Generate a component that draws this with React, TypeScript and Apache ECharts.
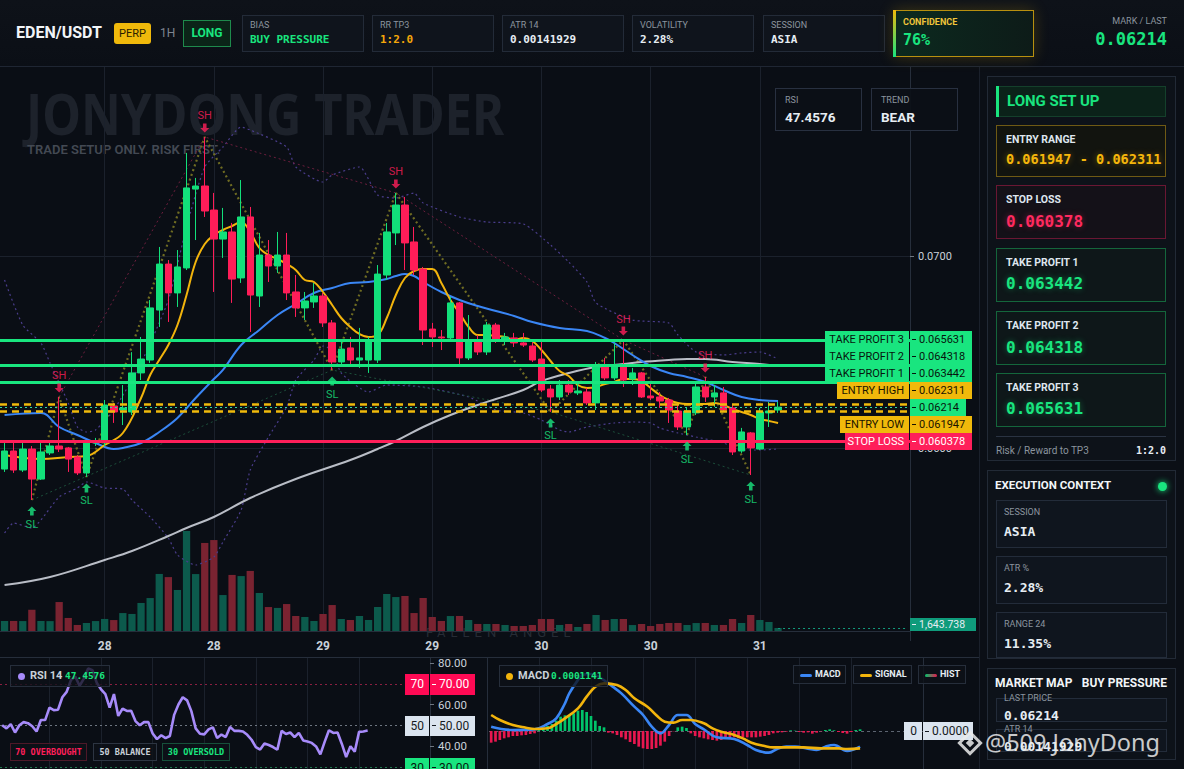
import React, { useEffect, useRef } from "react";
import * as echarts from "echarts";

// ---------------- data ----------------
const START_DAY = 27;
const START_HOUR = 13;
const SLOT_COUNT = 100;
const categories: string[] = Array.from({ length: SLOT_COUNT }, (_, i) => {
  const h = START_HOUR + i;
  return `${START_DAY + Math.floor(h / 24)} ${String(h % 24).padStart(2, "0")}:00`;
});

// [open, close, low, high]
const ohlc: number[][] = [
  [0.05892, 0.05986, 0.05877, 0.06033], [0.05986, 0.05887, 0.05872, 0.06033], [0.05887, 0.05996, 0.05877, 0.06033],
  [0.05996, 0.0584, 0.05731, 0.06012], [0.0584, 0.05981, 0.05835, 0.06028], [0.05976, 0.06012, 0.05965, 0.06043],
  [0.06012, 0.05996, 0.05981, 0.06267], [0.06002, 0.05944, 0.05877, 0.06007], [0.05955, 0.05872, 0.05861, 0.05965],
  [0.05872, 0.06033, 0.05851, 0.06043], [0.06028, 0.06038, 0.06012, 0.06054], [0.06028, 0.06225, 0.06012, 0.06251],
  [0.0622, 0.06189, 0.06132, 0.06236], [0.06199, 0.0621, 0.06121, 0.06329], [0.06189, 0.06392, 0.06173, 0.065],
  [0.06392, 0.06464, 0.06355, 0.06579], [0.06459, 0.0673, 0.06444, 0.06771], [0.06719, 0.06958, 0.06631, 0.07047],
  [0.06958, 0.06808, 0.06657, 0.06979], [0.06808, 0.06943, 0.06735, 0.07031], [0.06938, 0.07354, 0.06927, 0.07536],
  [0.07348, 0.07364, 0.07083, 0.07406], [0.07364, 0.07234, 0.07203, 0.07619], [0.07239, 0.07088, 0.06813, 0.07328],
  [0.07088, 0.07125, 0.0699, 0.0725], [0.07125, 0.0688, 0.06756, 0.07172], [0.06886, 0.07203, 0.0686, 0.07395],
  [0.07203, 0.06797, 0.06605, 0.07255], [0.06792, 0.07005, 0.06735, 0.0712], [0.07005, 0.06948, 0.06865, 0.07083],
  [0.06948, 0.07005, 0.06912, 0.07125], [0.07005, 0.06808, 0.06771, 0.0712], [0.06813, 0.0673, 0.06683, 0.06901],
  [0.0673, 0.06766, 0.06667, 0.06813], [0.06761, 0.06792, 0.0673, 0.0686], [0.06792, 0.06652, 0.06631, 0.06808],
  [0.06652, 0.06449, 0.06407, 0.06667], [0.06449, 0.06516, 0.06433, 0.06553], [0.06522, 0.06459, 0.06423, 0.06579],
  [0.06459, 0.0647, 0.06418, 0.06626], [0.06459, 0.06558, 0.06392, 0.06579], [0.06459, 0.06906, 0.06444, 0.06953],
  [0.06901, 0.07125, 0.06875, 0.07172], [0.0712, 0.07265, 0.07057, 0.07328], [0.07265, 0.07068, 0.06927, 0.07307],
  [0.07073, 0.06927, 0.06901, 0.07151], [0.06932, 0.06615, 0.06537, 0.06943], [0.0662, 0.06579, 0.06527, 0.06652],
  [0.06579, 0.06574, 0.06511, 0.06615], [0.06574, 0.06756, 0.06553, 0.06787], [0.06756, 0.0647, 0.06433, 0.06761],
  [0.0647, 0.06553, 0.06459, 0.06693], [0.06563, 0.06501, 0.06485, 0.06589], [0.06501, 0.06641, 0.06485, 0.06657],
  [0.06641, 0.06563, 0.06548, 0.06652], [0.06558, 0.06579, 0.06537, 0.066], [0.06574, 0.06548, 0.06527, 0.066],
  [0.06548, 0.06537, 0.06527, 0.066], [0.06532, 0.06459, 0.06449, 0.06563], [0.06464, 0.06303, 0.06293, 0.06553],
  [0.06308, 0.06267, 0.06189, 0.06329], [0.06267, 0.06329, 0.06251, 0.06355], [0.06329, 0.06293, 0.06277, 0.06355],
  [0.06288, 0.06298, 0.06277, 0.0634], [0.06293, 0.06236, 0.06225, 0.06314], [0.06236, 0.06433, 0.06199, 0.06449],
  [0.06423, 0.06366, 0.06355, 0.0647], [0.06366, 0.06423, 0.06355, 0.06548], [0.06423, 0.06355, 0.06319, 0.06563],
  [0.0636, 0.06392, 0.06329, 0.06418], [0.06392, 0.06267, 0.06262, 0.06397], [0.06272, 0.06262, 0.06251, 0.0634],
  [0.06267, 0.06246, 0.0621, 0.06293], [0.06251, 0.06199, 0.06132, 0.06262], [0.06194, 0.06111, 0.06095, 0.06225],
  [0.06111, 0.06194, 0.06069, 0.06215], [0.06184, 0.06319, 0.06173, 0.0634], [0.06319, 0.06267, 0.06241, 0.06371],
  [0.06267, 0.06288, 0.06215, 0.06329], [0.06288, 0.06199, 0.06189, 0.06319], [0.0621, 0.05981, 0.05965, 0.06225],
  [0.05986, 0.06085, 0.05976, 0.06106], [0.0608, 0.06002, 0.05861, 0.06085], [0.05996, 0.06189, 0.05991, 0.0621],
  [0.06184, 0.06194, 0.06111, 0.06241], [0.06199, 0.06214, 0.06184, 0.06241],
];

const volumes: number[] = [
  5480, 5530, 5460, 11620, 5510, 5440, 15930, 7180, 3320, 4410, 5470, 6630, 6020, 9870, 9380, 15420, 18130,
  31380, 29650, 22570, 55010, 31320, 48430, 50020, 19780, 30840, 30210, 33040, 20870, 13180, 12690, 14830,
  8240, 7720, 5490, 9360, 14280, 6610, 6040, 8260, 6070, 13190, 20360, 18680, 19270, 9880, 18160, 7690,
  5520, 8230, 8270, 6060, 3870, 3840, 3860, 3310, 2740, 2760, 3290, 6620, 6580, 3320, 3840, 2210, 3870,
  8790, 6070, 6590, 6610, 3280, 3860, 2740, 3870, 4390, 4420, 3310, 4380, 4410, 3290, 3320, 6610, 4390,
  8810, 6040, 4960, 1643.738,
];

const emaFast: number[][] = [
  [0, 0.059652], [4, 0.059444], [7, 0.059548], [9, 0.0596], [11, 0.060172], [13, 0.060796], [15, 0.062616],
  [16, 0.063812], [17, 0.064592], [18, 0.065372], [19, 0.066412], [20, 0.067972], [21, 0.069688], [22, 0.070624],
  [23, 0.071092], [24, 0.071352], [25, 0.07156], [26, 0.071768], [27, 0.071248], [28, 0.070416], [29, 0.070052],
  [30, 0.069844], [31, 0.069584], [32, 0.069272], [33, 0.068752], [34, 0.068648], [35, 0.068128], [36, 0.067452],
  [37, 0.066776], [38, 0.066308], [39, 0.065944], [40, 0.065788], [41, 0.065892], [42, 0.066776], [43, 0.067972],
  [44, 0.068856], [45, 0.06922], [46, 0.069324], [47, 0.069324], [48, 0.068596], [49, 0.067712], [50, 0.067036],
  [51, 0.066308], [52, 0.065892], [53, 0.065892], [54, 0.06584], [55, 0.065788], [56, 0.065632], [57, 0.065736],
  [58, 0.06558], [59, 0.065112], [60, 0.06454], [61, 0.06402], [62, 0.06376], [63, 0.063292], [64, 0.063136],
  [65, 0.063188], [66, 0.063344], [67, 0.063448], [68, 0.063604], [69, 0.063604], [70, 0.0635], [71, 0.063136],
  [72, 0.062772], [73, 0.062512], [74, 0.062356], [75, 0.062304], [76, 0.062304], [77, 0.062304], [78, 0.062356],
  [79, 0.062252], [80, 0.062044], [81, 0.061888], [82, 0.061732], [83, 0.061524], [84, 0.06142], [85, 0.061316],
];

const emaMid: number[][] = [
  [0, 0.061732], [4, 0.061836], [6, 0.061108], [8, 0.060692], [10, 0.060276], [12, 0.059964], [13, 0.060016],
  [15, 0.060276], [17, 0.060848], [19, 0.061576], [21, 0.062616], [23, 0.063604], [24, 0.064072], [26, 0.065372],
  [28, 0.066152], [30, 0.066932], [32, 0.067504], [34, 0.068076], [36, 0.068336], [38, 0.068596], [40, 0.068648],
  [42, 0.068804], [43, 0.06896], [44, 0.069064], [45, 0.06896], [46, 0.068648], [48, 0.068128], [50, 0.067712],
  [52, 0.0674], [54, 0.06714], [56, 0.06688], [58, 0.066568], [61, 0.066256], [64, 0.0661], [66, 0.065736],
  [67, 0.065476], [69, 0.064852], [71, 0.06428], [73, 0.063916], [75, 0.063708], [77, 0.063448], [79, 0.063032],
  [81, 0.062668], [83, 0.062512], [85, 0.06246],
];

const emaSlow: number[][] = [
  [0, 0.052892], [5, 0.053308], [11, 0.054192], [14, 0.05466], [18, 0.05544], [20, 0.055856], [23, 0.056428],
  [27, 0.057416], [32, 0.058404], [38, 0.059392], [41, 0.059964], [43, 0.06038], [46, 0.061108], [49, 0.061732],
  [52, 0.062252], [54, 0.062564], [57, 0.063032], [59, 0.0635], [62, 0.063916], [65, 0.064228], [68, 0.064384],
  [70, 0.064488], [73, 0.064592], [75, 0.064644], [77, 0.064644], [80, 0.064488], [83, 0.064384], [85, 0.06428],
];

const bandUpper: number[][] = [
  [0, 0.068752], [2, 0.066412], [4, 0.065476], [5, 0.064436], [7, 0.062356], [8, 0.061108], [9, 0.060848],
  [10, 0.060952], [12, 0.061992], [15, 0.064436], [18, 0.067712], [20, 0.071508], [22, 0.074628], [24, 0.075668],
  [26, 0.076708], [27, 0.076552], [31, 0.075668], [32, 0.074628], [35, 0.073848], [36, 0.074212], [39, 0.074628],
  [41, 0.073172], [43, 0.073016], [45, 0.073276], [46, 0.072756], [50, 0.072028], [53, 0.071768], [57, 0.071664],
  [60, 0.070572], [62, 0.069688], [64, 0.068648], [65, 0.067556], [69, 0.066672], [73, 0.066516], [74, 0.065892],
  [76, 0.065008], [79, 0.064852], [81, 0.064956], [83, 0.065008], [85, 0.064644],
];

const bandLower: number[][] = [
  [0, 0.055596], [1, 0.056116], [3, 0.055856], [4, 0.056272], [6, 0.057468], [8, 0.057936], [9, 0.058248],
  [11, 0.057936], [13, 0.057884], [14, 0.057312], [16, 0.056428], [18, 0.055336], [19, 0.054452], [21, 0.053932],
  [23, 0.054348], [24, 0.055128], [26, 0.056792], [27, 0.058872], [29, 0.060588], [31, 0.062148], [32, 0.063552],
  [34, 0.064592], [35, 0.06532], [36, 0.065112], [37, 0.063916], [40, 0.062928], [42, 0.063292], [46, 0.063188],
  [51, 0.062668], [54, 0.061992], [57, 0.061836], [59, 0.061472], [61, 0.060952], [62, 0.060848], [64, 0.061108],
  [67, 0.061316], [69, 0.061368], [71, 0.061316], [72, 0.061056], [74, 0.060796], [76, 0.060588], [79, 0.060276],
  [81, 0.059912], [83, 0.059912], [85, 0.059964],
];

const swingHighIdx = [6, 22, 43, 68, 77];
const swingLowIdx = [3, 9, 36, 60, 75, 82];
const trendLowIdx = [3, 36, 60, 82];

const TP3 = 0.065631;
const TP2 = 0.064318;
const TP1 = 0.063442;
const ENTRY_HIGH = 0.062311;
const ENTRY_LOW = 0.061947;
const STOP = 0.060378;
const LAST = 0.06214;
const LAST_VOL = 1643.738;

const rsi: number[] = [
  50.0, 48.5, 50.5, 46.5, 50.0, 51.5, 51.0, 49.5, 47.0, 52.5,
  52.5, 58.5, 57.3, 57.5, 63.5, 66.1, 71.8, 73.5, 69.0, 72.5,
  77.4, 76.5, 70.5, 67.3, 65.0, 58.5, 65.0, 54.5, 58.0, 56.9,
  57.0, 52.0, 50.0, 51.5, 51.5, 46.0, 43.3, 45.2, 43.8, 44.8,
  55.0, 60.0, 63.5, 62.0, 56.8, 48.5, 45.9, 45.6, 48.0, 49.0,
  43.8, 45.5, 44.3, 49.2, 47.3, 47.3, 47.0, 45.4, 43.0, 39.5,
  38.3, 41.2, 40.5, 39.5, 38.2, 47.3, 45.8, 46.5, 44.3, 46.3,
  42.7, 42.2, 41.5, 39.8, 36.0, 42.0, 47.6, 46.3, 46.5, 41.0,
  34.7, 39.9, 37.2, 46.8, 47.0, 47.4576,
];

const macdHist: number[] = [
  -0.00021, -0.000192, -0.000162, -0.000132, -0.000114, -0.00009, -0.00009, -0.000078, -0.000072, -0.000054, -0.000042,
  0.000042, 0.00006, 0.00009, 0.000126, 0.000186, 0.000258, 0.000282, 0.000288, 0.000318, 0.000366, 0.000378,
  0.000342, 0.00027, 0.000186, 0.00009, 0.000066,
  -0.00003, -0.000042, -0.000072, -0.000114, -0.00015, -0.000198, -0.000234, -0.000282, -0.000312, -0.000324,
  -0.000324, -0.000306, -0.000264, -0.000192, -0.00009, -0.000006,
  0.000066, 0.000078, 0.000054,
  -0.000042, -0.00009, -0.000114, -0.000132, -0.00015, -0.000162, -0.000174, -0.000162, -0.000132, -0.000114,
  -0.000114, -0.000132, -0.000114, -0.000114, -0.000114, -0.000114, -0.000102, -0.00009, -0.000072, -0.000042,
  -0.00003, -0.000024, -0.000012,
  0.000012, 0.000006, -0.000018, -0.00003, -0.000024, -0.000048, -0.00003, -0.000006, 0.000018, 0.00003,
  0.000012, -0.000018, -0.000036, -0.000048, -0.000018, 0.000018, 0.00003,
];

const macdLine: number[][] = [
  [0, 0.000078], [5, 0.000018], [10, 0.00003], [13, 0.000126], [15, 0.000228], [17, 0.000498], [18, 0.000678],
  [20, 0.000918], [21, 0.001008], [23, 0.001026], [25, 0.000966], [28, 0.000798], [30, 0.000678], [33, 0.000438],
  [35, 0.000288], [37, 0.000078], [39, -0.000042], [41, 0.000108], [43, 0.000288], [45, 0.000288], [47, 0.000126],
  [49, 0.00003], [52, -0.000114], [56, -0.000144], [59, -0.000252], [61, -0.000342], [64, -0.00039], [66, -0.000318],
  [68, -0.000282], [70, -0.000282], [73, -0.000318], [75, -0.000342], [77, -0.000282], [79, -0.000252],
  [82, -0.00036], [85, -0.000282],
];

const signalLine: number[][] = [
  [0, 0.000288], [2, 0.000198], [5, 0.000108], [8, 0.00006], [10, 0.000036], [13, 0.000048], [15, 0.000126],
  [17, 0.000228], [20, 0.000408], [22, 0.000618], [24, 0.000798], [26, 0.000858], [29, 0.000828], [31, 0.000738],
  [33, 0.000588], [36, 0.000438], [38, 0.000288], [40, 0.000168], [42, 0.00015], [44, 0.000198], [46, 0.000198],
  [49, 0.000138], [51, 0.000048], [53, -0.000012], [56, -0.000072], [58, -0.000132], [60, -0.00021], [63, -0.00027],
  [65, -0.000294], [68, -0.000294], [72, -0.000294], [76, -0.000312], [80, -0.000312], [82, -0.000324],
  [85, -0.000312],
];

// ---------------- style ----------------
const SANS = "Roboto, 'Noto Sans', 'DejaVu Sans', sans-serif";
const MONO = "'DejaVu Sans Mono', 'Liberation Mono', monospace";
const GREEN = "#19e57f";
const RED = "#ff1f5a";
const YELLOW = "#f0b90b";
const UP = "#12e07a";
const DOWN = "#ff1d58";
const GRIDC = "#1b212c";
const AXISC = "#262e3b";
const TXT = "#c9d1d9";
const BG = "#0a0e15";

const isLabelIdx = (i: number) => i % 12 === 11 && i < ohlc.length;
const gridIdx = categories.map((_, i) => i).filter(isLabelIdx);

function vGrid(yMin: number, yMax: number) {
  return {
    type: "line",
    data: [],
    silent: true,
    markLine: {
      silent: true,
      z: 1,
      precision: 8,
      symbol: ["none", "none"],
      label: { show: false },
      lineStyle: { color: GRIDC, width: 1, type: "solid" },
      data: gridIdx.map((i) => [{ coord: [categories[i], yMin] }, { coord: [categories[i], yMax] }]),
    },
  };
}

function dotted(data: number[][], color: string, width: number, z = 2, type: any = [2, 3]) {
  return {
    type: "line",
    data,
    z,
    symbol: "none",
    silent: true,
    lineStyle: { color, width, type },
  };
}

function mainOption() {
  const zig = [...swingHighIdx.map((i) => [i, ohlc[i][3]]), ...swingLowIdx.map((i) => [i, ohlc[i][2]])].sort(
    (a, b) => a[0] - b[0]
  );
  return {
    animation: false,
    grid: [
      { left: 0, top: 63.7, width: 910, height: 576.9, outerBoundsMode: "none" },
      { left: 0, top: 481, width: 910, height: 150, outerBoundsMode: "none" },
    ],
    xAxis: [
      {
        type: "category", gridIndex: 0, data: categories,
        axisLine: { show: false }, axisTick: { show: false }, axisLabel: { show: false }, splitLine: { show: false },
      },
      {
        type: "category", gridIndex: 1, data: categories,
        axisLine: { show: true, lineStyle: { color: AXISC } }, axisTick: { show: false },
        axisLabel: {
          show: true, interval: (i: number) => isLabelIdx(i), formatter: (v: string) => v.split(" ")[0],
          color: TXT, fontSize: 12, fontWeight: "bold", fontFamily: SANS, margin: 9,
        },
        splitLine: { show: false },
      },
    ],
    yAxis: [
      {
        type: "value", gridIndex: 0, position: "right", min: 0.05, max: 0.08, interval: 0.01,
        axisLine: { show: true, lineStyle: { color: AXISC } },
        axisTick: { show: true, length: 4, lineStyle: { color: "#6e7681" } },
        axisLabel: {
          formatter: (v: number) => v.toFixed(4), color: TXT, fontSize: 11, fontFamily: SANS, margin: 8,
          showMinLabel: false, showMaxLabel: false,
        },
        splitLine: { show: true, showMinLine: false, showMaxLine: false, lineStyle: { color: GRIDC } },
      },
      { type: "value", gridIndex: 1, min: 0, max: 82500, show: false },
    ],
    series: [
      { ...vGrid(0.0505, 0.08), xAxisIndex: 0, yAxisIndex: 0 },
      { ...dotted(bandUpper, "#4a3d8c", 1.2), xAxisIndex: 0, yAxisIndex: 0, smooth: 0.2 },
      { ...dotted(bandLower, "#4a3d8c", 1.2), xAxisIndex: 0, yAxisIndex: 0, smooth: 0.2 },
      { ...dotted(swingHighIdx.map((i) => [i, ohlc[i][3]]), "#6e1f3e", 1), xAxisIndex: 0, yAxisIndex: 0 },
      { ...dotted(trendLowIdx.map((i) => [i, ohlc[i][2]]), "#1c4e3a", 1), xAxisIndex: 0, yAxisIndex: 0 },
      { ...dotted(zig, "#6f6c22", 2.2, 2, [2, 3]), xAxisIndex: 0, yAxisIndex: 0 },
      {
        type: "line", xAxisIndex: 0, yAxisIndex: 0, data: emaSlow, z: 3, symbol: "none", smooth: 0.4, silent: true,
        lineStyle: { color: "#b9bdc6", width: 2 },
      },
      {
        type: "line", xAxisIndex: 0, yAxisIndex: 0, data: emaMid, z: 3, symbol: "none", smooth: 0.4, silent: true,
        lineStyle: { color: "#3a86f5", width: 2 },
      },
      {
        type: "line", xAxisIndex: 0, yAxisIndex: 0, data: emaFast, z: 4, symbol: "none", smooth: 0.4, silent: true,
        lineStyle: { color: "#f2b40c", width: 2 },
      },
      {
        type: "candlestick", xAxisIndex: 0, yAxisIndex: 0, data: ohlc, z: 5, barWidth: 7, silent: true,
        itemStyle: { color: UP, color0: DOWN, borderColor: UP, borderColor0: DOWN, borderWidth: 1 },
      },
      {
        type: "line", xAxisIndex: 0, yAxisIndex: 0, data: [], silent: true,
        markLine: {
          silent: true, z: 6, precision: 8, symbol: ["none", "none"], label: { show: false },
          data: [
            { yAxis: TP3, lineStyle: { color: GREEN, width: 3, type: "solid" } },
            { yAxis: TP2, lineStyle: { color: GREEN, width: 3, type: "solid" } },
            { yAxis: TP1, lineStyle: { color: GREEN, width: 3, type: "solid" } },
            { yAxis: ENTRY_HIGH, lineStyle: { color: YELLOW, width: 2.6, type: [7, 5] } },
            { yAxis: ENTRY_LOW, lineStyle: { color: YELLOW, width: 2.6, type: [7, 5] } },
            { yAxis: LAST, lineStyle: { color: "#2fd9a5", width: 1, type: [2, 3] } },
            { yAxis: STOP, lineStyle: { color: RED, width: 3, type: "solid" } },
          ],
        },
      },
      {
        type: "scatter", xAxisIndex: 0, yAxisIndex: 0, z: 8, silent: true,
        data: swingHighIdx.map((i) => [i, ohlc[i][3]]),
        symbol: "path://M3,0L7,0L7,5L10,5L5,10L0,5L3,5Z", symbolSize: [9, 9], symbolOffset: [0, -9],
        itemStyle: { color: RED },
        label: { show: true, position: "top", distance: 2, formatter: "SH", color: RED, fontSize: 11, fontFamily: SANS },
      },
      {
        type: "scatter", xAxisIndex: 0, yAxisIndex: 0, z: 8, silent: true,
        data: swingLowIdx.map((i) => [i, ohlc[i][2]]),
        symbol: "path://M5,0L10,5L7,5L7,10L3,10L3,5L0,5Z", symbolSize: [9, 9], symbolOffset: [0, 11],
        itemStyle: { color: GREEN },
        label: { show: true, position: "bottom", distance: 3, formatter: "SL", color: GREEN, fontSize: 11, fontFamily: SANS },
      },
      {
        type: "bar", xAxisIndex: 1, yAxisIndex: 1, z: 2, silent: true, barWidth: "80%",
        data: volumes.map((v, i) => ({
          value: v,
          itemStyle: { color: ohlc[i][1] >= ohlc[i][0] ? "#0c5a4c" : "#7a2331" },
        })),
        markLine: {
          silent: true, z: 3, precision: 4, symbol: ["none", "none"], label: { show: false },
          lineStyle: { color: "#139c7d", width: 1, type: [2, 3] },
          data: [[{ coord: [categories[ohlc.length - 1], LAST_VOL] }, { coord: [categories[SLOT_COUNT - 1], LAST_VOL] }]],
        },
      },
    ],
  };
}

// RSI chart div spans page y 637..789, clipped to 657..769 by its wrapper
function rsiOption() {
  return {
    animation: false,
    grid: { left: 0, top: 5.25, width: 430, height: 145.25, outerBoundsMode: "none" },
    xAxis: { type: "category", data: categories, show: false },
    yAxis: {
      type: "value", position: "right", min: 20, max: 90, interval: 10,
      axisLine: { show: true, lineStyle: { color: AXISC } },
      axisTick: { show: true, length: 4, lineStyle: { color: "#6e7681" } },
      axisLabel: {
        color: TXT, fontSize: 11.5, fontFamily: SANS, margin: 8, formatter: (v: number) => v.toFixed(2),
        showMinLabel: false, showMaxLabel: false,
      },
      splitLine: { show: false },
    },
    series: [
      vGrid(20, 90),
      {
        type: "line", data: rsi, symbol: "none", z: 3, silent: true,
        lineStyle: { color: "#a78bfa", width: 2.6 },
        markLine: {
          silent: true, z: 2, symbol: ["none", "none"], label: { show: false },
          data: [
            { yAxis: 70, lineStyle: { color: "#8a1f40", width: 1, type: [2, 3] } },
            { yAxis: 50, lineStyle: { color: "#6e7681", width: 1, type: [2, 3] } },
            { yAxis: 30, lineStyle: { color: "#1f7a4e", width: 1, type: [2, 3] } },
          ],
        },
      },
    ],
  };
}

function macdOption() {
  return {
    animation: false,
    grid: { left: 1, top: 0, width: 434, height: 112, outerBoundsMode: "none" },
    xAxis: { type: "category", data: categories, show: false },
    yAxis: {
      type: "value", position: "right", min: -0.000684, max: 0.001332,
      axisLine: { show: true, lineStyle: { color: AXISC } }, axisTick: { show: false },
      axisLabel: { show: false }, splitLine: { show: false },
    },
    series: [
      vGrid(-0.000684, 0.001332),
      {
        type: "bar", barWidth: "62%", z: 2, silent: true,
        data: macdHist.map((v) => ({ value: v, itemStyle: { color: v >= 0 ? "#00c46a" : "#e8174f" } })),
        markLine: {
          silent: true, z: 2, symbol: ["none", "none"], label: { show: false },
          lineStyle: { color: "#5c6470", width: 1, type: [3, 3] },
          data: [{ yAxis: 0 }],
        },
      },
      {
        type: "line", data: macdLine, symbol: "none", smooth: 0.4, z: 3, silent: true,
        lineStyle: { color: "#3a86f5", width: 2.6 },
      },
      {
        type: "line", data: signalLine, symbol: "none", smooth: 0.4, z: 4, silent: true,
        lineStyle: { color: "#f2b40c", width: 2.6 },
      },
    ],
  };
}

// ---------------- html helpers ----------------
function T(props: any) {
  const { x, cy, size, color, weight = 400, font = SANS, align = "left", children, ls, shadow, op } = props;
  const st: any = {
    position: "absolute", top: cy - size * 0.75, height: size * 1.5, lineHeight: `${size * 1.5}px`,
    fontSize: size, color, fontWeight: weight, fontFamily: font, whiteSpace: "nowrap",
    letterSpacing: ls, textShadow: shadow, opacity: op,
  };
  if (align === "right") st.right = 1184 - x;
  else st.left = x;
  return <div style={st}>{children}</div>;
}

function R(props: any) {
  const { x, y, w, h, bg, border, radius, style, children } = props;
  return (
    <div
      style={{
        position: "absolute", left: x, top: y, width: w, height: h, background: bg,
        border: border ? `1px solid ${border}` : undefined, borderRadius: radius, boxSizing: "border-box", ...style,
      }}
    >
      {children}
    </div>
  );
}

function Tag(props: any) {
  const { nameLeft, split, right, cy, h, bg, fg, name, value, size = 11 } = props;
  const top = cy - h / 2;
  return (
    <>
      {name && (
        <div
          style={{
            position: "absolute", left: nameLeft, top, width: split - 1 - nameLeft, height: h, background: bg,
            color: fg, fontFamily: SANS, fontSize: size, lineHeight: `${h}px`, textAlign: "right",
            paddingRight: 5, boxSizing: "border-box", whiteSpace: "nowrap",
          }}
        >
          {name}
        </div>
      )}
      <div
        style={{
          position: "absolute", left: split, top, width: right - split, height: h, background: bg, color: fg,
          fontFamily: SANS, fontSize: size, lineHeight: `${h}px`, paddingLeft: 9, boxSizing: "border-box",
          whiteSpace: "nowrap",
        }}
      >
        <div style={{ position: "absolute", left: 2, top: h / 2 - 0.5, width: 4, height: 1.2, background: fg }} />
        {value}
      </div>
    </>
  );
}

const topCards = [
  { label: "BIAS", value: "BUY PRESSURE", color: GREEN, x: 242 },
  { label: "RR TP3", value: "1:2.0", color: "#f5a70a", x: 372 },
  { label: "ATR 14", value: "0.00141929", color: "#e6edf3", x: 502 },
  { label: "VOLATILITY", value: "2.28%", color: "#e6edf3", x: 632 },
  { label: "SESSION", value: "ASIA", color: "#e6edf3", x: 763 },
];

const setupCards = [
  { label: "ENTRY RANGE", value: `${ENTRY_LOW.toFixed(6)} - ${ENTRY_HIGH.toFixed(6)}`, color: "#f5b60b", border: "#6f5a14", bg: "#12140f", top: 125, h: 52, size: 13.6, vy: 34 },
  { label: "STOP LOSS", value: STOP.toFixed(6), color: "#ff2a5f", border: "#6a1733", bg: "#141118", top: 185, h: 54, size: 16, vy: 37 },
  { label: "TAKE PROFIT 1", value: TP1.toFixed(6), color: GREEN, border: "#14663c", bg: "#0e1719", top: 248, h: 54, size: 16, vy: 36 },
  { label: "TAKE PROFIT 2", value: TP2.toFixed(6), color: GREEN, border: "#14663c", bg: "#0e1719", top: 311, h: 54, size: 16, vy: 37 },
  { label: "TAKE PROFIT 3", value: TP3.toFixed(6), color: GREEN, border: "#14663c", bg: "#0e1719", top: 373, h: 54, size: 16, vy: 36 },
];

const execCards = [
  { label: "SESSION", value: "ASIA", top: 500 },
  { label: "ATR %", value: "2.28%", top: 556 },
  { label: "RANGE 24", value: "11.35%", top: 612 },
];

export default function App() {
  const mainRef = useRef<HTMLDivElement>(null);
  const rsiRef = useRef<HTMLDivElement>(null);
  const macdRef = useRef<HTMLDivElement>(null);

  useEffect(() => {
    document.body.style.margin = "0";
    const m = echarts.init(mainRef.current as HTMLDivElement, undefined, { renderer: "svg" });
    const r = echarts.init(rsiRef.current as HTMLDivElement, undefined, { renderer: "svg" });
    const d = echarts.init(macdRef.current as HTMLDivElement, undefined, { renderer: "svg" });
    m.setOption(mainOption() as any);
    r.setOption(rsiOption() as any);
    d.setOption(macdOption() as any);
    return () => {
      m.dispose();
      r.dispose();
      d.dispose();
    };
  }, []);

  const lvl = [
    { name: "TAKE PROFIT 3", value: TP3.toFixed(6), cy: 339, nameLeft: 825, bg: GREEN, fg: "#07150d" },
    { name: "TAKE PROFIT 2", value: TP2.toFixed(6), cy: 356, nameLeft: 825, bg: GREEN, fg: "#07150d" },
    { name: "TAKE PROFIT 1", value: TP1.toFixed(6), cy: 373, nameLeft: 825, bg: GREEN, fg: "#07150d" },
    { name: "ENTRY HIGH", value: ENTRY_HIGH.toFixed(6), cy: 390.5, nameLeft: 837, bg: YELLOW, fg: "#1a1400" },
    { name: null, value: LAST.toFixed(5), cy: 407.5, nameLeft: 0, bg: GREEN, fg: "#07150d", right: 966 },
    { name: "ENTRY LOW", value: ENTRY_LOW.toFixed(6), cy: 424, nameLeft: 840, bg: YELLOW, fg: "#1a1400" },
    { name: "STOP LOSS", value: STOP.toFixed(6), cy: 441.5, nameLeft: 845, bg: RED, fg: "#ffffff" },
  ];

  return (
    <div style={{ position: "fixed", left: 0, top: 0, width: 1184, height: 769, background: "#0b0f16", overflow: "hidden", fontFamily: SANS }}>
      {/* chart region bg */}
      <R x={0} y={0} w={980} h={769} bg={BG} />
      {/* watermark under chart */}
      <div style={{ position: "absolute", left: 26, top: 78, fontFamily: "'Noto Sans', sans-serif", fontWeight: 700, fontSize: 57, color: "#1d222b", whiteSpace: "nowrap", transform: "scaleX(0.86)", transformOrigin: "left top", lineHeight: "70px" }}>
        JONYDONG TRADER
      </div>
      <T x={27} cy={150} size={13} weight={600} color="#434953">TRADE SETUP ONLY. RISK FIRST.</T>
      <T x={426} cy={633} size={13} color="#272c35" ls={5}>FALLEN ANGEL</T>

      <div ref={mainRef} style={{ position: "absolute", left: 0, top: 0, width: 980, height: 657 }} />
      <div style={{ position: "absolute", left: 0, top: 657, width: 487, height: 112, overflow: "hidden" }}>
        <div ref={rsiRef} style={{ position: "absolute", left: 0, top: -20, width: 487, height: 152 }} />
      </div>
      <div ref={macdRef} style={{ position: "absolute", left: 488, top: 657, width: 492, height: 112 }} />

      {/* separators */}
      <R x={0} y={657} w={980} h={1} bg={AXISC} />
      <R x={487} y={657} w={1} h={112} bg={AXISC} />
      <R x={979} y={67} w={1} h={702} bg="#1a202b" />

      {/* top bar */}
      <R x={0} y={0} w={1184} h={67} bg="linear-gradient(180deg,#0e1219,#0b0f16)" style={{ borderBottom: "1px solid #1f2633" }} />
      <T x={16} cy={33} size={16} weight={700} color="#f2f5f8">EDEN/USDT</T>
      <R x={114} y={23} w={37} h={21} bg={YELLOW} radius={3}>
        <div style={{ textAlign: "center", lineHeight: "21px", fontSize: 11, color: "#2a1d00", fontFamily: SANS }}>PERP</div>
      </R>
      <T x={160} cy={33} size={12} color="#7d8590">1H</T>
      <R x={183} y={20} w={48} h={27} bg="#0b2418" border="#1e8a4c">
        <div style={{ textAlign: "center", lineHeight: "25px", fontSize: 12, fontWeight: 700, color: GREEN }}>LONG</div>
      </R>
      {topCards.map((c) => (
        <React.Fragment key={c.label}>
          <R x={c.x} y={15} w={122} h={37} bg="#0f141c" border="#232b38" />
          <T x={c.x + 8} cy={26} size={9} color="#8b949e">{c.label}</T>
          <T x={c.x + 8} cy={40} size={11} weight={700} font={MONO} color={c.color}>{c.value}</T>
        </React.Fragment>
      ))}
      <R x={893} y={10} w={141} h={47} bg="linear-gradient(90deg,#0c2a1f,#0d1b18)" border="#b8900f" style={{ boxShadow: "0 0 14px rgba(240,185,11,0.22)" }} />
      <R x={893} y={10} w={3} h={47} bg="linear-gradient(180deg,#f0b90b,#19e57f)" />
      <T x={903} cy={23} size={9} weight={700} color="#f0c43a">CONFIDENCE</T>
      <T x={903} cy={40} size={15} weight={700} font={MONO} color={GREEN}>76%</T>
      <T x={1167} cy={22} size={9} color="#8b949e" align="right">MARK / LAST</T>
      <T x={1167} cy={40} size={17} weight={700} font={MONO} color={GREEN} align="right">0.06214</T>

      {/* RSI / TREND cards */}
      {[
        { l: "RSI", v: "47.4576", x: 775 },
        { l: "TREND", v: "BEAR", x: 871 },
      ].map((c) => (
        <React.Fragment key={c.l}>
          <R x={c.x} y={88} w={87} h={43} bg="rgba(11,15,22,0.9)" border="#283040" />
          <T x={c.x + 10} cy={101} size={9} color="#8b949e">{c.l}</T>
          <T x={c.x + 10} cy={117} size={13.5} weight={700} color="#e6edf3">{c.v}</T>
        </React.Fragment>
      ))}

      {/* level tags */}
      {lvl.map((t) => (
        <Tag key={t.value + (t.name || "")} nameLeft={t.nameLeft} split={910} right={t.right || 972} cy={t.cy} h={17} bg={t.bg} fg={t.fg} name={t.name} value={t.value} size={11} />
      ))}
      {/* volume tag */}
      <R x={910} y={618} w={66} h={13} bg="#0f9b7b" />
      <div style={{ position: "absolute", left: 912, top: 624, width: 4, height: 1.2, background: "#e6edf3" }} />
      <T x={919} cy={624.5} size={10.5} color="#e6edf3">{LAST_VOL.toLocaleString("en-US", { minimumFractionDigits: 3 })}</T>

      {/* RSI overlays */}
      <R x={10} y={665} w={100} h={22} bg="rgba(13,17,24,0.78)" border="#262e3b" />
      <div style={{ position: "absolute", left: 18, top: 673, width: 7, height: 7, borderRadius: 4, background: "#a78bfa" }} />
      <T x={30} cy={676} size={11} weight={700} color={TXT}>RSI 14</T>
      <T x={65} cy={676} size={9.5} weight={700} font={MONO} color={GREEN}>47.4576</T>
      {[
        { t: "70 OVERBOUGHT", x: 10, w: 77, c: RED, b: "#4d1828" },
        { t: "50 BALANCE", x: 93, w: 64, c: TXT, b: "#2d3542" },
        { t: "30 OVERSOLD", x: 162, w: 68, c: GREEN, b: "#16503a" },
      ].map((b) => (
        <R key={b.t} x={b.x} y={743} w={b.w} h={18} bg="rgba(13,17,24,0.8)" border={b.b}>
          <div style={{ textAlign: "center", lineHeight: "16px", fontSize: 8.5, fontWeight: 700, fontFamily: MONO, color: b.c, whiteSpace: "nowrap" }}>{b.t}</div>
        </R>
      ))}
      <Tag nameLeft={405} split={430} right={475} cy={684.5} h={21} bg="#ff0a54" fg="#ffffff" name="70" value="70.00" size={12} />
      <Tag nameLeft={405} split={430} right={475} cy={725.5} h={20} bg="#dbe4ef" fg="#151a22" name="50" value="50.00" size={12} />
      <Tag nameLeft={405} split={430} right={475} cy={767.5} h={20} bg={GREEN} fg="#07150d" name="30" value="30.00" size={12} />

      {/* MACD overlays */}
      <R x={499} y={665} w={109} h={22} bg="rgba(13,17,24,0.78)" border="#262e3b" />
      <div style={{ position: "absolute", left: 506, top: 673, width: 7, height: 7, borderRadius: 4, background: "#f2b40c" }} />
      <T x={518} cy={676} size={11} weight={700} color={TXT}>MACD</T>
      <T x={551} cy={676} size={9.5} weight={700} font={MONO} color={GREEN}>0.0001141</T>
      {[
        { t: "MACD", x: 793, w: 53, c: "#3a86f5" },
        { t: "SIGNAL", x: 853, w: 59, c: "#f2b40c" },
        { t: "HIST", x: 918, w: 48, c: "linear-gradient(90deg,#00c46a,#e8174f)" },
      ].map((b) => (
        <React.Fragment key={b.t}>
          <R x={b.x} y={665} w={b.w} h={19} bg="rgba(13,17,24,0.8)" border="#262e3b" />
          <div style={{ position: "absolute", left: b.x + 7, top: 673.5, width: 12, height: 3, borderRadius: 2, background: b.c }} />
          <T x={b.x + 22} cy={674.5} size={9} weight={700} color="#e6edf3">{b.t}</T>
        </React.Fragment>
      ))}
      <Tag nameLeft={904} split={923} right={973} cy={731} h={18} bg="#dbe4ef" fg="#151a22" name="0" value="0.0000" size={12} />

      {/* right panel: LONG SET UP */}
      <R x={987} y={76} w={189} h={385} bg="#0d1219" border="#222a36" />
      <R x={996} y={86} w={170} h={31} bg="#0b2219" border="#14402b" />
      <R x={996} y={86} w={3} h={31} bg={GREEN} />
      <T x={1007} cy={101} size={15} weight={700} color={GREEN}>LONG SET UP</T>
      {setupCards.map((c) => (
        <React.Fragment key={c.label}>
          <R x={996} y={c.top} w={170} h={c.h} bg={c.bg} border={c.border} />
          <T x={1006} cy={c.top + 15} size={10.5} weight={700} color="#dfe6ee">{c.label}</T>
          <T x={1006} cy={c.top + c.vy} size={c.size} weight={700} font={MONO} color={c.color} shadow={`0 0 6px ${c.color}66`}>{c.value}</T>
        </React.Fragment>
      ))}
      <R x={996} y={436} w={170} h={1} bg="#2a3342" />
      <T x={996} cy={450} size={10} color="#8b949e">Risk / Reward to TP3</T>
      <T x={1166} cy={450} size={10} weight={700} font={MONO} color="#e6edf3" align="right">1:2.0</T>

      {/* execution context */}
      <R x={987} y={470} w={189} h={189} bg="#0d1219" border="#222a36" style={{ overflow: "hidden" }} />
      <T x={995} cy={486} size={11.5} weight={700} color="#f2f5f8">EXECUTION CONTEXT</T>
      <div style={{ position: "absolute", left: 1158, top: 482, width: 9, height: 9, borderRadius: 5, background: GREEN, boxShadow: "0 0 6px #19e57f" }} />
      {execCards.map((c) => (
        <React.Fragment key={c.label}>
          <R x={996} y={c.top} w={171} h={c.top + 48 > 658 ? 658 - c.top : 48} bg="#0f151e" border="#232c3a" />
          <T x={1004} cy={c.top + 13} size={9} color="#8b949e">{c.label}</T>
          <T x={1004} cy={c.top + 32} size={13} weight={700} font={MONO} color="#e6edf3">{c.value}</T>
        </React.Fragment>
      ))}

      {/* market map */}
      <R x={987} y={668} w={189} h={92} bg="#0d1219" border="#222a36" />
      <T x={995} cy={683} size={12} weight={700} color="#f2f5f8">MARKET MAP</T>
      <T x={1167} cy={683} size={12} weight={700} color="#f2f5f8" align="right">BUY PRESSURE</T>
      <R x={996} y={698} w={171} h={24} bg="#0f151e" border="#232c3a" />
      <T x={1004} cy={699} size={9} color="#8b949e">LAST PRICE</T>
      <T x={1004} cy={716} size={13} weight={700} font={MONO} color="#e6edf3">0.06214</T>
      <R x={996} y={729} w={171} h={23} bg="#0f151e" border="#232c3a" />
      <T x={1004} cy={730} size={9} color="#8b949e">ATR 14</T>
      <T x={1004} cy={747} size={13} weight={700} font={MONO} color="#e6edf3">0.00141929</T>

      {/* watermark */}
      <div style={{ position: "absolute", left: 961, top: 734, width: 18, height: 18, border: "3px solid rgba(235,235,235,0.85)", transform: "rotate(45deg)", boxSizing: "border-box" }} />
      <div style={{ position: "absolute", left: 967, top: 740, width: 6, height: 6, background: "rgba(235,235,235,0.85)", transform: "rotate(45deg)" }} />
      <T x={985} cy={743} size={23.5} color="rgba(236,236,236,0.85)" font="'Noto Sans', sans-serif">@509 JonyDong</T>
    </div>
  );
}
